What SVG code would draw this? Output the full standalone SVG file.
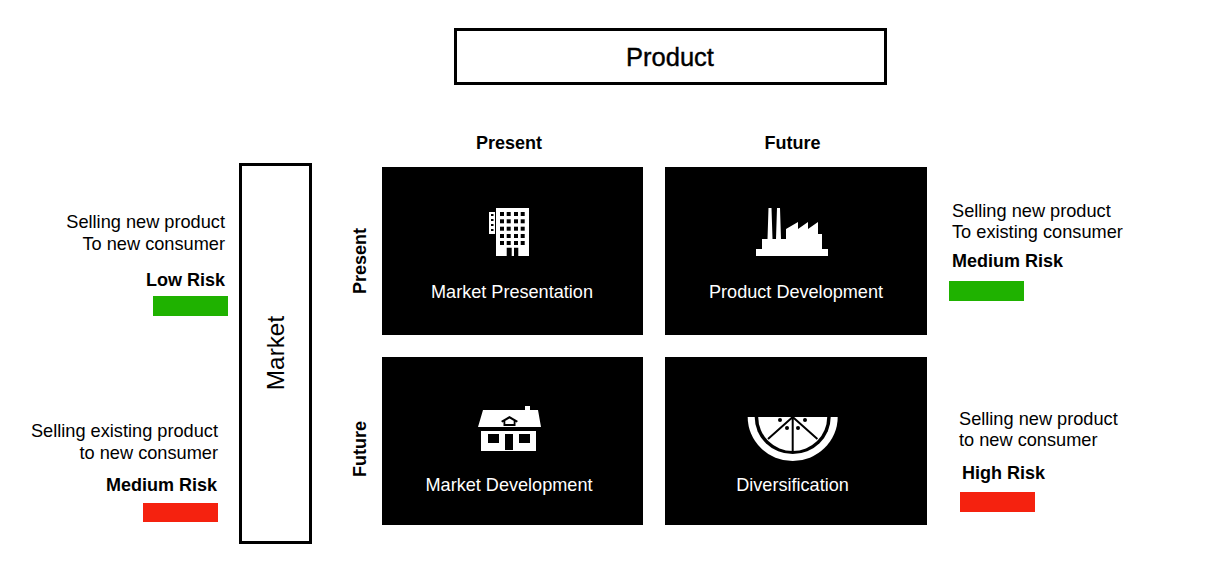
<svg xmlns="http://www.w3.org/2000/svg" width="1228" height="587" viewBox="0 0 1228 587">
<style>
text{font-family:"Liberation Sans",Arial,sans-serif;font-size:18.200px;fill:#000}
.b{font-weight:bold;font-size:18px}
.e{text-anchor:end}
.m{text-anchor:middle}
.w{fill:#fff;font-size:18.100px}
.box{fill:#fff;stroke:#000;stroke-width:3}
.card{fill:#000}
.wf{fill:#fff}
.kf{fill:#000}
.g{fill:#1fb200}
.r{fill:#f5220f}
</style>
<rect width="1228" height="587" fill="#fff"/>
<g id="product"><rect class="box" x="455.500" y="29.500" width="430" height="54"/><text class="m" x="670" y="66" style="font-size:25.500px;stroke:#000;stroke-width:.4">Product</text></g>
<g id="market"><rect class="box" x="240.500" y="164.500" width="70" height="378"/><text class="m" transform="translate(284,353) rotate(-90)" style="font-size:24.300px">Market</text></g>
<g id="col-present"><text class="b m" x="509" y="148.500">Present</text></g>
<g id="col-future"><text class="b m" x="792.500" y="148.500">Future</text></g>
<g id="row-present"><text class="b m" transform="translate(366,261) rotate(-90)">Present</text></g>
<g id="row-future"><text class="b m" transform="translate(366,449) rotate(-90)">Future</text></g>

<g id="market-presentation"><rect class="card" x="382" y="167" width="261" height="168"/>
<path class="wf" d="M496 208h33v48h-10.700v-8.300h-4.300v8.300h-2.300v-8.300h-5v8.300H496z"/>
<path class="wf" d="M489 212h6v22h-6z"/>
<g class="kf"><rect x="500" y="212" width="4" height="4"/><rect x="506.700" y="212" width="4" height="4"/><rect x="514" y="212" width="4" height="4"/><rect x="520.700" y="212" width="4" height="4"/>
<rect x="500" y="219.300" width="4" height="4"/><rect x="506.700" y="219.300" width="4" height="4"/><rect x="514" y="219.300" width="4" height="4"/><rect x="520.700" y="219.300" width="4" height="4"/>
<rect x="500" y="226.700" width="4" height="4"/><rect x="506.700" y="226.700" width="4" height="4"/><rect x="514" y="226.700" width="4" height="4"/><rect x="520.700" y="226.700" width="4" height="4"/>
<rect x="500" y="234" width="4" height="4"/><rect x="506.700" y="234" width="4" height="4"/><rect x="514" y="234" width="4" height="4"/><rect x="520.700" y="234" width="4" height="4"/>
<rect x="500" y="241" width="4" height="4"/><rect x="506.700" y="241" width="4" height="4"/><rect x="514" y="241" width="4" height="4"/><rect x="520.700" y="241" width="4" height="4"/>
<rect x="491" y="214" width="2.500" height="2"/><rect x="491" y="219" width="2.500" height="2"/><rect x="491" y="224" width="2.500" height="2"/><rect x="491" y="229" width="2.500" height="2"/></g>
<text class="w m" x="512" y="298">Market Presentation</text></g>

<g id="product-development"><rect class="card" x="665" y="167" width="262" height="168"/>
<path class="wf" d="M756 249h6v-10h5.500l1-31h3l1 31h3.500l1-31h3l1 31h5v-10l12-7v7l10-7v7l10-7v12h4v15h6v7h-72z"/>
<text class="w m" x="796" y="298">Product Development</text></g>

<g id="market-development"><rect class="card" x="382" y="357" width="261" height="168"/>
<path class="wf" d="M483 410h42v-4h5v4h8l3 17h-63z"/>
<path class="wf" d="M481 431h55v20h-55z"/>
<g class="kf"><rect x="488" y="434" width="11" height="9"/><rect x="505" y="434" width="8" height="16"/><rect x="519" y="434" width="11" height="9"/>
<path d="M501 421l8.500-5 8.500 5-1.500 1.500-7-4-7 4z"/><path d="M503.500 421h1.800v3h8.400v-3h1.800v5h-12z"/></g>
<text class="w m" x="509" y="491">Market Development</text></g>

<g id="diversification"><rect class="card" x="665" y="357" width="262" height="168"/>
<path class="wf" d="M747.700 417h90a45 44 0 0 1-90 0z"/>
<path class="kf" d="M754.700 417h76a38 37 0 0 1-76 0z"/>
<path class="wf" d="M758.200 417h69a34.500 34 0 0 1-69 0z"/>
<path d="M792.700 417L768 439M792.700 417V451M792.700 417L817.400 439" stroke="#000" stroke-width="2" fill="none"/>
<g class="kf"><circle cx="780" cy="420" r="2"/><circle cx="805" cy="420" r="2"/><circle cx="787" cy="428" r="2"/><circle cx="798" cy="428" r="2"/></g>
<text class="w m" x="792.500" y="491">Diversification</text></g>

<g id="risk-low"><text class="e" x="225" y="228">Selling new product</text><text class="e" x="225" y="250">To new consumer</text><text class="b e" x="225" y="286">Low Risk</text><rect class="g" x="153" y="296" width="75" height="20"/></g>
<g id="risk-medium-left"><text class="e" x="218" y="437">Selling existing product</text><text class="e" x="218" y="459">to new consumer</text><text class="b e" x="217" y="490.500">Medium Risk</text><rect class="r" x="143" y="503" width="75" height="19"/></g>
<g id="risk-medium-right"><text x="952" y="217">Selling new product</text><text x="952" y="238">To existing consumer</text><text class="b" x="952" y="267">Medium Risk</text><rect class="g" x="949" y="281" width="75" height="20"/></g>
<g id="risk-high"><text x="959" y="425">Selling new product</text><text x="959" y="446">to new consumer</text><text class="b" x="962" y="479">High Risk</text><rect class="r" x="960" y="492" width="75" height="20"/></g>
<g id="connectors"></g>
</svg>
